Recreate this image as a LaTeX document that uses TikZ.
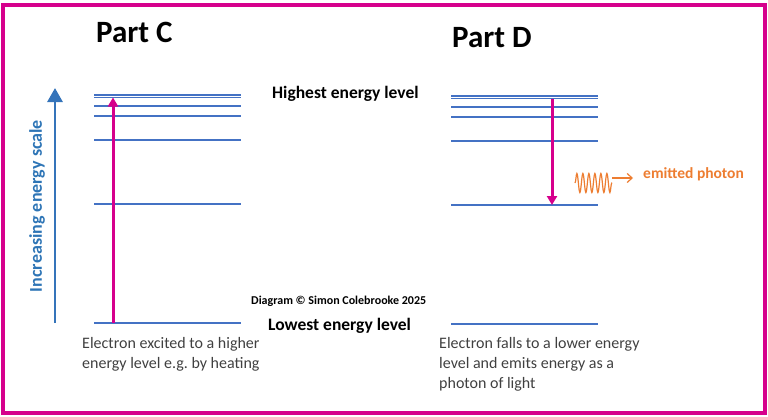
\documentclass[tikz,border=0pt]{standalone}
\usepackage{fontspec}
\setmainfont{Carlito}
\usetikzlibrary{arrows.meta,decorations.pathmorphing}
\definecolor{framepink}{RGB}{214,0,140}
\definecolor{levelblue}{RGB}{68,114,196}
\definecolor{scaleblue}{RGB}{46,117,182}
\definecolor{photonorange}{RGB}{237,125,49}
\definecolor{captiongray}{RGB}{64,64,64}
\tikzset{
    level/.style={draw=levelblue, line width=1.8pt},
    jump/.style={draw=framepink, line width=3pt, -{Triangle[length=9pt,width=10pt]}},
    heading/.style={font=\bfseries\fontsize{31}{36}\selectfont, anchor=base west, inner sep=0pt},
    levellabel/.style={font=\bfseries\fontsize{17.5}{21}\selectfont, anchor=base west, inner sep=0pt},
    caption/.style={font=\fontsize{16}{20}\selectfont, text=captiongray, anchor=north west,
        align=left, inner sep=0pt}
}

\begin{document}
\begin{tikzpicture}[x=1pt, y=-1pt]
    \useasboundingbox (0,0) rectangle (768,416);
    \draw[framepink, line width=4pt] (3,5) rectangle (765,413);

    \node (partC) [heading] at (96,42) {Part C};
    \node (partD) [heading] at (452,47) {Part D};

    % energy levels, left and right
    \foreach \y [count=\i] in {95,97.5,106,116,140,204,323} {
        \coordinate (cl\i) at (94,\y);
        \coordinate (cr\i) at (241,\y);
        \draw[level] (cl\i) -- (cr\i);
    }
    \foreach \y [count=\i] in {96,98.5,107,117,141,205,324} {
        \coordinate (dl\i) at (451,\y);
        \coordinate (dr\i) at (598,\y);
        \draw[level] (dl\i) -- (dr\i);
    }

    % energy scale
    \coordinate (scalebot) at (55,323);
    \coordinate (scaletop) at (55,88);
    \draw[scaleblue!70!levelblue, line width=2.8pt, -{Triangle[length=14pt,width=15pt]}] (scalebot) -- (scaletop);
    \node (scale) [rotate=90, text=scaleblue, font=\bfseries\fontsize{18}{21}\selectfont, inner sep=0pt]
        at (37,206) {Increasing energy scale};

    % electron jumps
    \coordinate (upfrom) at (113,323);
    \coordinate (upto) at (113,97.5);
    \draw[jump] (upfrom) -- (upto);
    \coordinate (downfrom) at (552,98.5);
    \coordinate (downto) at (552,205);
    \draw[jump] (downfrom) -- (downto);

    % photon
    \coordinate (wavestart) at (575,178);
    \coordinate (waveend) at (612,178);
    \coordinate (photontip) at (633,178);
    \draw[photonorange, line width=1.2pt, decorate,
        decoration={snake, amplitude=9.5pt, segment length=6pt, pre length=0pt, post length=0pt}]
        ([yshift=-5pt]wavestart) -- ([yshift=-5pt]waveend);
    \draw[photonorange, line width=1.2pt, -{Straight Barb[length=5pt,width=9pt]}] (waveend) -- (photontip);
    \node (photon) [anchor=west, text=photonorange, font=\bfseries\fontsize{15.5}{18}\selectfont, inner sep=0pt]
        at (643,174) {emitted photon};

    \node (highest) [levellabel] at (272,98) {Highest energy level};
    \node (lowest) [levellabel] at (268,330) {Lowest energy level};
    \node (credit) [anchor=base west, font=\bfseries\fontsize{12}{14}\selectfont, inner sep=0pt]
        at (251,304) {Diagram \textcopyright{} Simon Colebrooke 2025};

    \node (captC) [caption] at (82,337) {Electron excited to a higher\\energy level e.g.\ by heating};
    \node (captD) [caption] at (439,337) {Electron falls to a lower energy\\level and emits energy as a\\photon of light};
\end{tikzpicture}
\end{document}
